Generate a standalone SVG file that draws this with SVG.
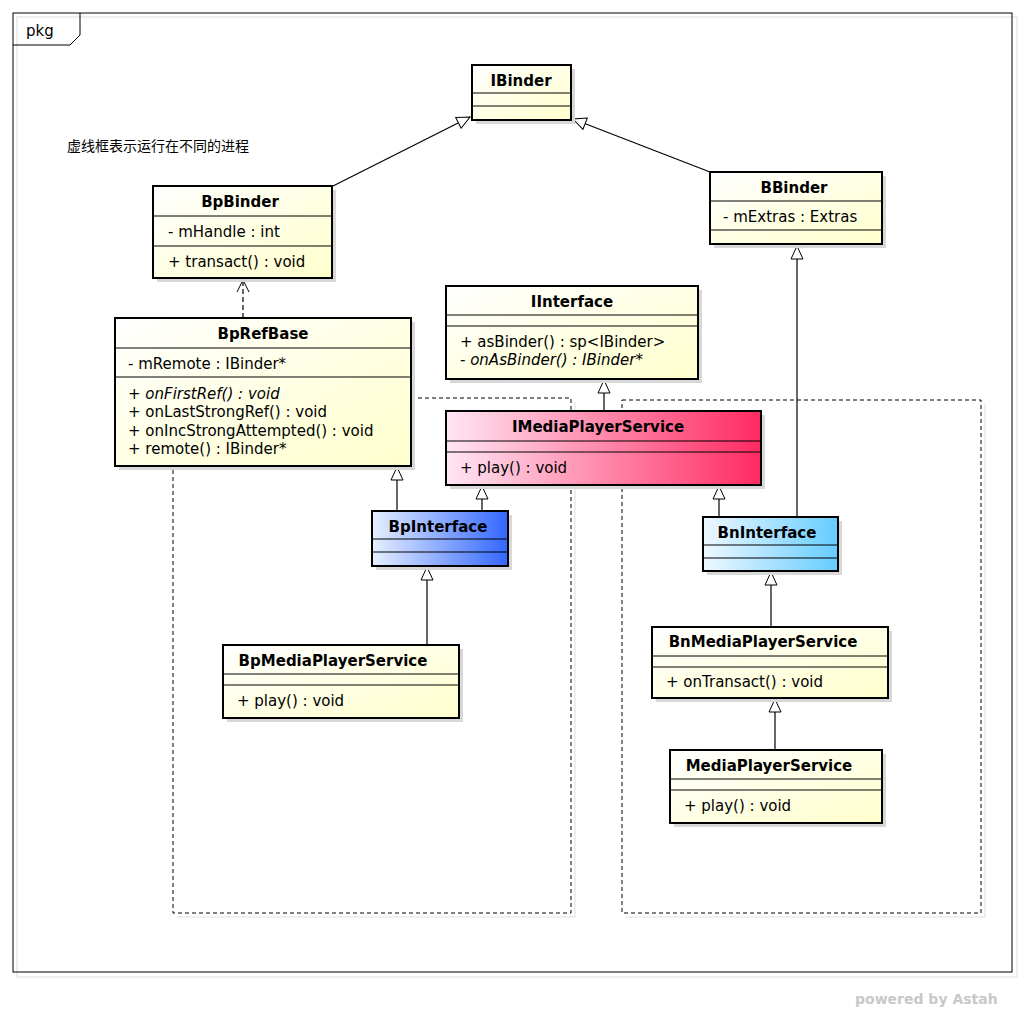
<svg xmlns="http://www.w3.org/2000/svg" width="1024" height="1012" viewBox="0 0 1024 1012">
<defs>
<linearGradient id="gy" x1="0" y1="0" x2="1" y2="1"><stop offset="0" stop-color="#ffffff"/><stop offset="1" stop-color="#ffffcc"/></linearGradient>
<linearGradient id="gp" x1="0" y1="0" x2="1" y2="0"><stop offset="0" stop-color="#ffe6f4"/><stop offset="1" stop-color="#ff2a62"/></linearGradient>
<linearGradient id="gb" x1="0" y1="0" x2="1" y2="0"><stop offset="0" stop-color="#e6f0ff"/><stop offset="1" stop-color="#3366ff"/></linearGradient>
<linearGradient id="gc" x1="0" y1="0" x2="1" y2="0"><stop offset="0" stop-color="#eef8ff"/><stop offset="1" stop-color="#66ccff"/></linearGradient>
<marker id="tri" markerUnits="userSpaceOnUse" markerWidth="16" markerHeight="14" refX="14" refY="7" orient="auto"><path d="M1,1 L14,7 L1,13 z" fill="#fff" stroke="#000" stroke-width="1"/></marker>
<marker id="open" markerUnits="userSpaceOnUse" markerWidth="14" markerHeight="14" refX="13" refY="7" orient="auto"><path d="M1,1 L13,7 L1,13" fill="none" stroke="#000" stroke-width="1"/></marker>
</defs>
<style>
text{font-family:"DejaVu Sans","Noto Sans CJK SC",sans-serif;font-size:15px;fill:#000}
.t{font-weight:bold;text-anchor:middle}
.i{font-style:italic}
.box{stroke:#000;stroke-width:2}
.sh{fill:#d8d8d8}
.sep{stroke:#000;stroke-width:1}
.dash{fill:none;stroke:#000;stroke-width:1;stroke-dasharray:4,3}
.c{stroke:#000;stroke-width:1.2;fill:none}
</style>
<rect width="1024" height="1012" fill="#fff"/>
<rect x="17" y="17" width="1000" height="960" fill="none" stroke="#ddd"/>
<rect x="13" y="13" width="999" height="959" fill="none" stroke="#000"/>
<path d="M13,45 H70 L80,35 V13" fill="none" stroke="#000"/>
<text x="26" y="36">pkg</text>
<text x="67" y="151" style="font-size:14px">虚线框表示运行在不同的进程</text>
<path class="dash" d="M411,398 H571 V913 H173 V466"/>
<path d="M575,402 V917 H177" fill="none" stroke="#ddd"/>
<rect class="dash" x="622" y="400" width="359" height="513"/>
<path d="M985,404 V917 H626" fill="none" stroke="#ddd"/>

<g id="connectors">
<line class="c" x1="333" y1="186" x2="470" y2="117" marker-end="url(#tri)"/>
<line class="c" x1="710" y1="172" x2="573" y2="119" marker-end="url(#tri)"/>
<line class="c" x1="243" y1="318" x2="243" y2="280" stroke-dasharray="5,3" marker-end="url(#open)"/>
<line class="c" x1="797" y1="517" x2="797" y2="246" marker-end="url(#tri)"/>
<line class="c" x1="604" y1="411" x2="604" y2="380" marker-end="url(#tri)"/>
<line class="c" x1="397" y1="511" x2="397" y2="467" marker-end="url(#tri)"/>
<line class="c" x1="482" y1="511" x2="482" y2="486" marker-end="url(#tri)"/>
<line class="c" x1="719" y1="517" x2="719" y2="486" marker-end="url(#tri)"/>
<line class="c" x1="427" y1="645" x2="427" y2="567" marker-end="url(#tri)"/>
<line class="c" x1="771" y1="627" x2="771" y2="572" marker-end="url(#tri)"/>
<line class="c" x1="775" y1="750" x2="775" y2="699" marker-end="url(#tri)"/>
</g>

<g id="IBinder"><rect class="sh" x="476" y="69" width="99" height="55"/><rect class="box" x="472" y="65" width="99" height="55" fill="url(#gy)"/><line class="sep" x1="472" y1="93" x2="571" y2="93"/><line class="sep" x1="472" y1="106" x2="571" y2="106"/><text class="t" x="521" y="86">IBinder</text></g>

<g id="BpBinder"><rect class="sh" x="157" y="190" width="179" height="92"/><rect class="box" x="153" y="186" width="179" height="92" fill="url(#gy)"/><line class="sep" x1="153" y1="216" x2="332" y2="216"/><line class="sep" x1="153" y1="246" x2="332" y2="246"/><text class="t" x="240" y="207">BpBinder</text><text x="168" y="237">- mHandle : int</text><text x="168" y="267">+ transact() : void</text></g>

<g id="BBinder"><rect class="sh" x="714" y="176" width="172" height="72"/><rect class="box" x="710" y="172" width="172" height="72" fill="url(#gy)"/><line class="sep" x1="710" y1="201" x2="882" y2="201"/><line class="sep" x1="710" y1="230" x2="882" y2="230"/><text class="t" x="794" y="193">BBinder</text><text x="723" y="222">- mExtras : Extras</text></g>

<g id="BpRefBase"><rect class="sh" x="119" y="322" width="296" height="148"/><rect class="box" x="115" y="318" width="296" height="148" fill="url(#gy)"/><line class="sep" x1="115" y1="348" x2="411" y2="348"/><line class="sep" x1="115" y1="377" x2="411" y2="377"/><text class="t" x="263" y="339">BpRefBase</text><text x="128" y="369">- mRemote : IBinder*</text><text x="128" y="399">+ <tspan class="i">onFirstRef() : void</tspan></text><text x="128" y="417">+ onLastStrongRef() : void</text><text x="128" y="436">+ onIncStrongAttempted() : void</text><text x="128" y="454">+ remote() : IBinder*</text></g>

<g id="IInterface"><rect class="sh" x="450" y="290" width="252" height="93"/><rect class="box" x="446" y="286" width="252" height="93" fill="url(#gy)"/><line class="sep" x1="446" y1="315" x2="698" y2="315"/><line class="sep" x1="446" y1="326" x2="698" y2="326"/><text class="t" x="572" y="307">IInterface</text><text x="460" y="347">+ asBinder() : sp&lt;IBinder&gt;</text><text x="460" y="365" class="i">- onAsBinder() : IBinder*</text></g>

<g id="IMediaPlayerService"><rect class="sh" x="450" y="415" width="315" height="74"/><rect class="box" x="446" y="411" width="315" height="74" fill="url(#gp)"/><line class="sep" x1="446" y1="441" x2="761" y2="441"/><line class="sep" x1="446" y1="452" x2="761" y2="452"/><text class="t" x="598" y="432">IMediaPlayerService</text><text x="460" y="473">+ play() : void</text></g>

<g id="BpInterface"><rect class="sh" x="376" y="515" width="136" height="55"/><rect class="box" x="372" y="511" width="136" height="55" fill="url(#gb)"/><line class="sep" x1="372" y1="539" x2="508" y2="539"/><line class="sep" x1="372" y1="552" x2="508" y2="552"/><text class="t" x="438" y="532">BpInterface</text></g>

<g id="BnInterface"><rect class="sh" x="707" y="521" width="135" height="54"/><rect class="box" x="703" y="517" width="135" height="54" fill="url(#gc)"/><line class="sep" x1="703" y1="545" x2="838" y2="545"/><line class="sep" x1="703" y1="558" x2="838" y2="558"/><text class="t" x="767" y="538">BnInterface</text></g>

<g id="BpMediaPlayerService"><rect class="sh" x="227" y="649" width="236" height="73"/><rect class="box" x="223" y="645" width="236" height="73" fill="url(#gy)"/><line class="sep" x1="223" y1="674" x2="459" y2="674"/><line class="sep" x1="223" y1="685" x2="459" y2="685"/><text class="t" x="333" y="666">BpMediaPlayerService</text><text x="237" y="706">+ play() : void</text></g>

<g id="BnMediaPlayerService"><rect class="sh" x="656" y="631" width="236" height="71"/><rect class="box" x="652" y="627" width="236" height="71" fill="url(#gy)"/><line class="sep" x1="652" y1="656" x2="888" y2="656"/><line class="sep" x1="652" y1="667" x2="888" y2="667"/><text class="t" x="763" y="647">BnMediaPlayerService</text><text x="666" y="687">+ onTransact() : void</text></g>

<g id="MediaPlayerService"><rect class="sh" x="674" y="754" width="212" height="73"/><rect class="box" x="670" y="750" width="212" height="73" fill="url(#gy)"/><line class="sep" x1="670" y1="779" x2="882" y2="779"/><line class="sep" x1="670" y1="790" x2="882" y2="790"/><text class="t" x="769" y="771">MediaPlayerService</text><text x="684" y="811">+ play() : void</text></g>

<text x="855" y="1004" style="font-size:14px;fill:#c8c8c8;font-weight:bold">powered by Astah</text>
</svg>
